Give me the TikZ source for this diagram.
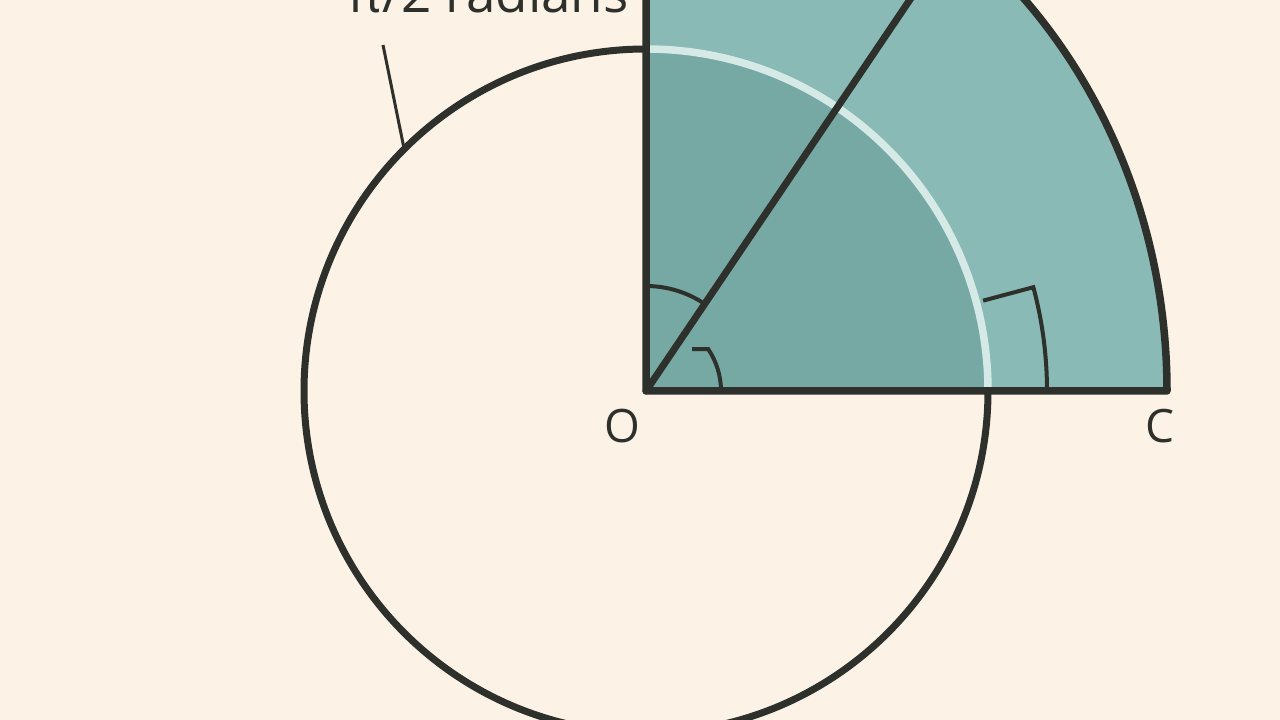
\documentclass[tikz,border=0pt]{standalone}
\usepackage{fontspec}
\setmainfont{Open Sans}
\usetikzlibrary{calc}
\definecolor{bgc}{HTML}{FCF3E6}
\definecolor{outerfill}{HTML}{8ABAB5}
\definecolor{innerfill}{HTML}{77A9A4}
\definecolor{lightarc}{HTML}{D5EAE6}
\definecolor{ink}{HTML}{2E302C}
\begin{document}
\begin{tikzpicture}[x=1pt,y=1pt,
  outline/.style={draw=ink,line width=7.5pt,line join=round,line cap=round},
  thin/.style={draw=ink,line width=4pt},
  lbl/.style={text=ink,font=\fontsize{46}{50}\selectfont,inner sep=0pt},
  biglbl/.style={text=ink,font=\fontsize{53}{58}\selectfont,inner sep=0pt}]
\fill[bgc] (0,0) rectangle (1280,720);
\useasboundingbox (0,0) rectangle (1280,720);
\clip (0,0) rectangle (1280,720);
\coordinate (O) at (646,329);
\coordinate (C) at (1167,329);
\coordinate (R) at (988,329);
% outer sector
\fill[outerfill] (O) -- (C) arc[start angle=0,end angle=90,x radius=521,y radius=570] -- cycle;
% inner quarter disc
\fill[innerfill] (O) -- (R) arc[start angle=0,end angle=90,radius=342] -- cycle;
% light arc
\draw[lightarc,line width=7.5pt] (R) arc[start angle=0,end angle=90,radius=342];
% black circle remainder
\draw[ink,line width=7pt] ($(O)+(0,342)$) arc[start angle=90,end angle=360,radius=342];
% sector outline
\draw[outline] (646,760) -- (O) -- (C) arc[start angle=0,end angle=95,x radius=521,y radius=570];
% slanted line
\draw[ink,line width=7pt,line cap=round] (O) -- ($(O)+(56:700)$);
% angle marks
\draw[thin] ($(O)+(90:105)$) arc[start angle=90,end angle=56,radius=105];
\draw[thin] ($(O)+(0:75)$) arc[start angle=0,end angle=34,radius=75] -- ++(-16,0);
\draw[thin] ($(O)+(0:401)$) arc[start angle=0,end angle=15,radius=401] -- ($(O)+(15:349)$);
% labels
\node[lbl,anchor=base] (Olab) at (622,277) {O};
\node[lbl,anchor=base] (Clab) at (1160,277) {C};
\node[biglbl,anchor=base east] (pilab) at (629,707) {π/2 radians};
\coordinate (lead) at (383,675);
\coordinate (tip) at ($(O)+(135:342)$);
\draw[ink,line width=3pt] (lead) -- (tip);
\end{tikzpicture}
\end{document}
